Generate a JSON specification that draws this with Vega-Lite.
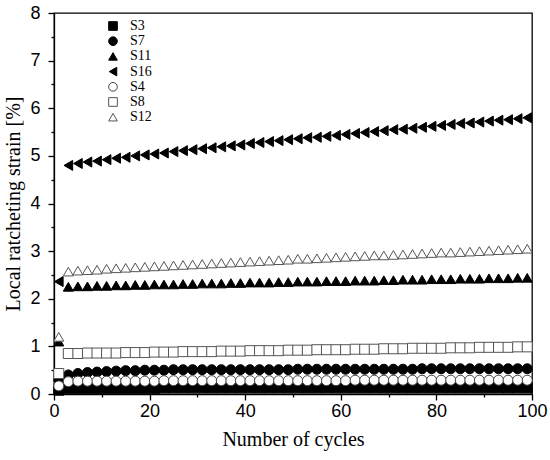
{
"$schema":"https://vega.github.io/schema/vega-lite/v6.json",
"width":478,"height":381,
"autosize":{"type":"none"},
"padding":{"left":54,"top":13,"right":18,"bottom":66},
"background":"white",
"config":{"view":{"stroke":"black","strokeWidth":1.3}},
"data":{"values":[
{"c":1,"s":"S3","v":0.08},{"c":3,"s":"S3","v":0.12},{"c":5,"s":"S3","v":0.12},{"c":7,"s":"S3","v":0.12},{"c":9,"s":"S3","v":0.12},{"c":11,"s":"S3","v":0.12},{"c":13,"s":"S3","v":0.12},{"c":15,"s":"S3","v":0.12},{"c":17,"s":"S3","v":0.12},{"c":19,"s":"S3","v":0.12},{"c":21,"s":"S3","v":0.12},{"c":23,"s":"S3","v":0.13},{"c":25,"s":"S3","v":0.13},{"c":27,"s":"S3","v":0.13},{"c":29,"s":"S3","v":0.13},{"c":31,"s":"S3","v":0.13},{"c":33,"s":"S3","v":0.13},{"c":35,"s":"S3","v":0.13},{"c":37,"s":"S3","v":0.13},{"c":39,"s":"S3","v":0.13},{"c":41,"s":"S3","v":0.13},{"c":43,"s":"S3","v":0.13},{"c":45,"s":"S3","v":0.13},{"c":47,"s":"S3","v":0.13},{"c":49,"s":"S3","v":0.13},{"c":51,"s":"S3","v":0.13},{"c":53,"s":"S3","v":0.13},{"c":55,"s":"S3","v":0.13},{"c":57,"s":"S3","v":0.13},{"c":59,"s":"S3","v":0.13},{"c":61,"s":"S3","v":0.13},{"c":63,"s":"S3","v":0.13},{"c":65,"s":"S3","v":0.13},{"c":67,"s":"S3","v":0.13},{"c":69,"s":"S3","v":0.13},{"c":71,"s":"S3","v":0.13},{"c":73,"s":"S3","v":0.13},{"c":75,"s":"S3","v":0.13},{"c":77,"s":"S3","v":0.13},{"c":79,"s":"S3","v":0.13},{"c":81,"s":"S3","v":0.13},{"c":83,"s":"S3","v":0.13},{"c":85,"s":"S3","v":0.13},{"c":87,"s":"S3","v":0.13},{"c":89,"s":"S3","v":0.13},{"c":91,"s":"S3","v":0.13},{"c":93,"s":"S3","v":0.13},{"c":95,"s":"S3","v":0.13},{"c":97,"s":"S3","v":0.13},{"c":99,"s":"S3","v":0.13},
{"c":1,"s":"S7","v":0.30},{"c":3,"s":"S7","v":0.40},{"c":5,"s":"S7","v":0.43},{"c":7,"s":"S7","v":0.45},{"c":9,"s":"S7","v":0.46},{"c":11,"s":"S7","v":0.47},{"c":13,"s":"S7","v":0.48},{"c":15,"s":"S7","v":0.49},{"c":17,"s":"S7","v":0.49},{"c":19,"s":"S7","v":0.50},{"c":21,"s":"S7","v":0.50},{"c":23,"s":"S7","v":0.50},{"c":25,"s":"S7","v":0.51},{"c":27,"s":"S7","v":0.51},{"c":29,"s":"S7","v":0.51},{"c":31,"s":"S7","v":0.51},{"c":33,"s":"S7","v":0.51},{"c":35,"s":"S7","v":0.51},{"c":37,"s":"S7","v":0.51},{"c":39,"s":"S7","v":0.51},{"c":41,"s":"S7","v":0.51},{"c":43,"s":"S7","v":0.51},{"c":45,"s":"S7","v":0.51},{"c":47,"s":"S7","v":0.51},{"c":49,"s":"S7","v":0.51},{"c":51,"s":"S7","v":0.52},{"c":53,"s":"S7","v":0.52},{"c":55,"s":"S7","v":0.52},{"c":57,"s":"S7","v":0.52},{"c":59,"s":"S7","v":0.52},{"c":61,"s":"S7","v":0.52},{"c":63,"s":"S7","v":0.52},{"c":65,"s":"S7","v":0.52},{"c":67,"s":"S7","v":0.52},{"c":69,"s":"S7","v":0.52},{"c":71,"s":"S7","v":0.52},{"c":73,"s":"S7","v":0.52},{"c":75,"s":"S7","v":0.52},{"c":77,"s":"S7","v":0.53},{"c":79,"s":"S7","v":0.53},{"c":81,"s":"S7","v":0.53},{"c":83,"s":"S7","v":0.53},{"c":85,"s":"S7","v":0.53},{"c":87,"s":"S7","v":0.53},{"c":89,"s":"S7","v":0.53},{"c":91,"s":"S7","v":0.53},{"c":93,"s":"S7","v":0.53},{"c":95,"s":"S7","v":0.53},{"c":97,"s":"S7","v":0.53},{"c":99,"s":"S7","v":0.53},
{"c":1,"s":"S11","v":1.10},{"c":3,"s":"S11","v":2.25},{"c":5,"s":"S11","v":2.26},{"c":7,"s":"S11","v":2.26},{"c":9,"s":"S11","v":2.27},{"c":11,"s":"S11","v":2.27},{"c":13,"s":"S11","v":2.28},{"c":15,"s":"S11","v":2.28},{"c":17,"s":"S11","v":2.29},{"c":19,"s":"S11","v":2.29},{"c":21,"s":"S11","v":2.30},{"c":23,"s":"S11","v":2.30},{"c":25,"s":"S11","v":2.30},{"c":27,"s":"S11","v":2.31},{"c":29,"s":"S11","v":2.31},{"c":31,"s":"S11","v":2.32},{"c":33,"s":"S11","v":2.32},{"c":35,"s":"S11","v":2.32},{"c":37,"s":"S11","v":2.33},{"c":39,"s":"S11","v":2.33},{"c":41,"s":"S11","v":2.34},{"c":43,"s":"S11","v":2.34},{"c":45,"s":"S11","v":2.34},{"c":47,"s":"S11","v":2.35},{"c":49,"s":"S11","v":2.35},{"c":51,"s":"S11","v":2.36},{"c":53,"s":"S11","v":2.36},{"c":55,"s":"S11","v":2.36},{"c":57,"s":"S11","v":2.37},{"c":59,"s":"S11","v":2.37},{"c":61,"s":"S11","v":2.37},{"c":63,"s":"S11","v":2.38},{"c":65,"s":"S11","v":2.38},{"c":67,"s":"S11","v":2.38},{"c":69,"s":"S11","v":2.39},{"c":71,"s":"S11","v":2.39},{"c":73,"s":"S11","v":2.40},{"c":75,"s":"S11","v":2.40},{"c":77,"s":"S11","v":2.40},{"c":79,"s":"S11","v":2.41},{"c":81,"s":"S11","v":2.41},{"c":83,"s":"S11","v":2.41},{"c":85,"s":"S11","v":2.42},{"c":87,"s":"S11","v":2.42},{"c":89,"s":"S11","v":2.42},{"c":91,"s":"S11","v":2.43},{"c":93,"s":"S11","v":2.43},{"c":95,"s":"S11","v":2.43},{"c":97,"s":"S11","v":2.44},{"c":99,"s":"S11","v":2.44},
{"c":1,"s":"S16","v":2.36},{"c":3,"s":"S16","v":4.80},{"c":5,"s":"S16","v":4.84},{"c":7,"s":"S16","v":4.87},{"c":9,"s":"S16","v":4.89},{"c":11,"s":"S16","v":4.92},{"c":13,"s":"S16","v":4.95},{"c":15,"s":"S16","v":4.97},{"c":17,"s":"S16","v":5.00},{"c":19,"s":"S16","v":5.02},{"c":21,"s":"S16","v":5.04},{"c":23,"s":"S16","v":5.06},{"c":25,"s":"S16","v":5.09},{"c":27,"s":"S16","v":5.11},{"c":29,"s":"S16","v":5.13},{"c":31,"s":"S16","v":5.15},{"c":33,"s":"S16","v":5.17},{"c":35,"s":"S16","v":5.19},{"c":37,"s":"S16","v":5.21},{"c":39,"s":"S16","v":5.23},{"c":41,"s":"S16","v":5.26},{"c":43,"s":"S16","v":5.28},{"c":45,"s":"S16","v":5.30},{"c":47,"s":"S16","v":5.32},{"c":49,"s":"S16","v":5.34},{"c":51,"s":"S16","v":5.36},{"c":53,"s":"S16","v":5.38},{"c":55,"s":"S16","v":5.39},{"c":57,"s":"S16","v":5.41},{"c":59,"s":"S16","v":5.43},{"c":61,"s":"S16","v":5.45},{"c":63,"s":"S16","v":5.47},{"c":65,"s":"S16","v":5.49},{"c":67,"s":"S16","v":5.51},{"c":69,"s":"S16","v":5.53},{"c":71,"s":"S16","v":5.55},{"c":73,"s":"S16","v":5.56},{"c":75,"s":"S16","v":5.58},{"c":77,"s":"S16","v":5.60},{"c":79,"s":"S16","v":5.62},{"c":81,"s":"S16","v":5.64},{"c":83,"s":"S16","v":5.66},{"c":85,"s":"S16","v":5.68},{"c":87,"s":"S16","v":5.69},{"c":89,"s":"S16","v":5.71},{"c":91,"s":"S16","v":5.73},{"c":93,"s":"S16","v":5.75},{"c":95,"s":"S16","v":5.76},{"c":97,"s":"S16","v":5.78},{"c":99,"s":"S16","v":5.80},
{"c":1,"s":"S4","v":0.17},{"c":3,"s":"S4","v":0.26},{"c":5,"s":"S4","v":0.27},{"c":7,"s":"S4","v":0.27},{"c":9,"s":"S4","v":0.27},{"c":11,"s":"S4","v":0.27},{"c":13,"s":"S4","v":0.27},{"c":15,"s":"S4","v":0.27},{"c":17,"s":"S4","v":0.27},{"c":19,"s":"S4","v":0.27},{"c":21,"s":"S4","v":0.27},{"c":23,"s":"S4","v":0.28},{"c":25,"s":"S4","v":0.28},{"c":27,"s":"S4","v":0.28},{"c":29,"s":"S4","v":0.28},{"c":31,"s":"S4","v":0.28},{"c":33,"s":"S4","v":0.28},{"c":35,"s":"S4","v":0.28},{"c":37,"s":"S4","v":0.28},{"c":39,"s":"S4","v":0.28},{"c":41,"s":"S4","v":0.28},{"c":43,"s":"S4","v":0.28},{"c":45,"s":"S4","v":0.28},{"c":47,"s":"S4","v":0.28},{"c":49,"s":"S4","v":0.28},{"c":51,"s":"S4","v":0.28},{"c":53,"s":"S4","v":0.28},{"c":55,"s":"S4","v":0.28},{"c":57,"s":"S4","v":0.28},{"c":59,"s":"S4","v":0.28},{"c":61,"s":"S4","v":0.28},{"c":63,"s":"S4","v":0.29},{"c":65,"s":"S4","v":0.29},{"c":67,"s":"S4","v":0.29},{"c":69,"s":"S4","v":0.29},{"c":71,"s":"S4","v":0.29},{"c":73,"s":"S4","v":0.29},{"c":75,"s":"S4","v":0.29},{"c":77,"s":"S4","v":0.29},{"c":79,"s":"S4","v":0.29},{"c":81,"s":"S4","v":0.29},{"c":83,"s":"S4","v":0.29},{"c":85,"s":"S4","v":0.29},{"c":87,"s":"S4","v":0.29},{"c":89,"s":"S4","v":0.29},{"c":91,"s":"S4","v":0.29},{"c":93,"s":"S4","v":0.29},{"c":95,"s":"S4","v":0.29},{"c":97,"s":"S4","v":0.29},{"c":99,"s":"S4","v":0.29},
{"c":1,"s":"S8","v":0.43},{"c":3,"s":"S8","v":0.85},{"c":5,"s":"S8","v":0.85},{"c":7,"s":"S8","v":0.86},{"c":9,"s":"S8","v":0.86},{"c":11,"s":"S8","v":0.86},{"c":13,"s":"S8","v":0.86},{"c":15,"s":"S8","v":0.87},{"c":17,"s":"S8","v":0.87},{"c":19,"s":"S8","v":0.87},{"c":21,"s":"S8","v":0.88},{"c":23,"s":"S8","v":0.88},{"c":25,"s":"S8","v":0.88},{"c":27,"s":"S8","v":0.89},{"c":29,"s":"S8","v":0.89},{"c":31,"s":"S8","v":0.89},{"c":33,"s":"S8","v":0.89},{"c":35,"s":"S8","v":0.90},{"c":37,"s":"S8","v":0.90},{"c":39,"s":"S8","v":0.90},{"c":41,"s":"S8","v":0.91},{"c":43,"s":"S8","v":0.91},{"c":45,"s":"S8","v":0.91},{"c":47,"s":"S8","v":0.91},{"c":49,"s":"S8","v":0.92},{"c":51,"s":"S8","v":0.92},{"c":53,"s":"S8","v":0.92},{"c":55,"s":"S8","v":0.93},{"c":57,"s":"S8","v":0.93},{"c":59,"s":"S8","v":0.93},{"c":61,"s":"S8","v":0.93},{"c":63,"s":"S8","v":0.94},{"c":65,"s":"S8","v":0.94},{"c":67,"s":"S8","v":0.94},{"c":69,"s":"S8","v":0.95},{"c":71,"s":"S8","v":0.95},{"c":73,"s":"S8","v":0.95},{"c":75,"s":"S8","v":0.96},{"c":77,"s":"S8","v":0.96},{"c":79,"s":"S8","v":0.96},{"c":81,"s":"S8","v":0.96},{"c":83,"s":"S8","v":0.97},{"c":85,"s":"S8","v":0.97},{"c":87,"s":"S8","v":0.97},{"c":89,"s":"S8","v":0.98},{"c":91,"s":"S8","v":0.98},{"c":93,"s":"S8","v":0.98},{"c":95,"s":"S8","v":0.98},{"c":97,"s":"S8","v":0.99},{"c":99,"s":"S8","v":0.99},
{"c":1,"s":"S12","v":1.20},{"c":3,"s":"S12","v":2.57},{"c":5,"s":"S12","v":2.59},{"c":7,"s":"S12","v":2.60},{"c":9,"s":"S12","v":2.61},{"c":11,"s":"S12","v":2.63},{"c":13,"s":"S12","v":2.64},{"c":15,"s":"S12","v":2.65},{"c":17,"s":"S12","v":2.66},{"c":19,"s":"S12","v":2.67},{"c":21,"s":"S12","v":2.68},{"c":23,"s":"S12","v":2.69},{"c":25,"s":"S12","v":2.70},{"c":27,"s":"S12","v":2.71},{"c":29,"s":"S12","v":2.72},{"c":31,"s":"S12","v":2.73},{"c":33,"s":"S12","v":2.74},{"c":35,"s":"S12","v":2.75},{"c":37,"s":"S12","v":2.76},{"c":39,"s":"S12","v":2.77},{"c":41,"s":"S12","v":2.78},{"c":43,"s":"S12","v":2.79},{"c":45,"s":"S12","v":2.80},{"c":47,"s":"S12","v":2.81},{"c":49,"s":"S12","v":2.82},{"c":51,"s":"S12","v":2.84},{"c":53,"s":"S12","v":2.84},{"c":55,"s":"S12","v":2.85},{"c":57,"s":"S12","v":2.86},{"c":59,"s":"S12","v":2.87},{"c":61,"s":"S12","v":2.88},{"c":63,"s":"S12","v":2.89},{"c":65,"s":"S12","v":2.90},{"c":67,"s":"S12","v":2.91},{"c":69,"s":"S12","v":2.91},{"c":71,"s":"S12","v":2.92},{"c":73,"s":"S12","v":2.93},{"c":75,"s":"S12","v":2.94},{"c":77,"s":"S12","v":2.95},{"c":79,"s":"S12","v":2.96},{"c":81,"s":"S12","v":2.97},{"c":83,"s":"S12","v":2.97},{"c":85,"s":"S12","v":2.98},{"c":87,"s":"S12","v":2.99},{"c":89,"s":"S12","v":3.00},{"c":91,"s":"S12","v":3.01},{"c":93,"s":"S12","v":3.02},{"c":95,"s":"S12","v":3.03},{"c":97,"s":"S12","v":3.04},{"c":99,"s":"S12","v":3.05}
]},
"mark":{"type":"point","opacity":1,"strokeWidth":1,"size":100},
"encoding":{
"x":{"field":"c","type":"quantitative","title":"Number of cycles",
 "scale":{"domain":[0,100],"nice":false},
 "axis":{"values":[0,10,20,30,40,50,60,70,80,90,100],
  "labelExpr":"datum.value % 20 === 0 ? '' + datum.value : ''",
  "grid":false,"domainColor":"black","domainWidth":1.3,"tickColor":"black","tickWidth":1.3,
  "tickSize":{"condition":{"test":"datum.value % 20 === 0","value":6},"value":3},
  "labelFont":"Liberation Sans","labelFontSize":18,"labelColor":"black","labelPadding":2,"labelFlush":false,"labelOverlap":false,
  "titleFont":"Liberation Serif","titleFontSize":20,"titleFontWeight":"normal","titleColor":"black","titlePadding":9}},
"y":{"field":"v","type":"quantitative","title":"Local ratcheting strain [%]",
 "scale":{"domain":[0,8],"nice":false},
 "axis":{"values":[0,0.5,1,1.5,2,2.5,3,3.5,4,4.5,5,5.5,6,6.5,7,7.5,8],
  "labelExpr":"datum.value % 1 === 0 ? '' + datum.value : ''",
  "grid":false,"domainColor":"black","domainWidth":1.3,"tickColor":"black","tickWidth":1.3,
  "tickSize":{"condition":{"test":"datum.value % 1 === 0","value":6},"value":3},
  "labelFont":"Liberation Sans","labelFontSize":18,"labelColor":"black","labelPadding":8,"labelFlush":false,"labelOverlap":false,
  "titleFont":"Liberation Serif","titleFontSize":20,"titleFontWeight":"normal","titleColor":"black","titlePadding":6}},
"shape":{"field":"s","type":"nominal","title":null,
 "scale":{"domain":["S3","S7","S11","S16","S4","S8","S12"],"range":["square","circle","triangle-up","triangle-left","circle","square","triangle-up"]},
 "legend":{"orient":"none","legendX":52,"legendY":6,"padding":0,"symbolSize":75,"symbolStrokeWidth":1,"labelFont":"Liberation Serif","labelFontSize":14,"labelColor":"black","labelOffset":10,"rowPadding":1.2,"symbolOpacity":1}},
"fill":{"field":"s","type":"nominal","title":null,
 "scale":{"domain":["S3","S7","S11","S16","S4","S8","S12"],"range":["black","black","black","black","white","white","white"]},
 "legend":{"orient":"none","legendX":52,"legendY":6,"padding":0,"symbolSize":75,"symbolStrokeWidth":1,"labelFont":"Liberation Serif","labelFontSize":14,"labelColor":"black","labelOffset":10,"rowPadding":1.2,"symbolOpacity":1}},
"stroke":{"field":"s","type":"nominal","title":null,
 "scale":{"domain":["S3","S7","S11","S16","S4","S8","S12"],"range":["black","black","black","black","#444444","#555555","#555555"]},
 "legend":{"orient":"none","legendX":52,"legendY":6,"padding":0,"symbolSize":75,"symbolStrokeWidth":1,"labelFont":"Liberation Serif","labelFontSize":14,"labelColor":"black","labelOffset":10,"rowPadding":1.2,"symbolOpacity":1}}
}
}
